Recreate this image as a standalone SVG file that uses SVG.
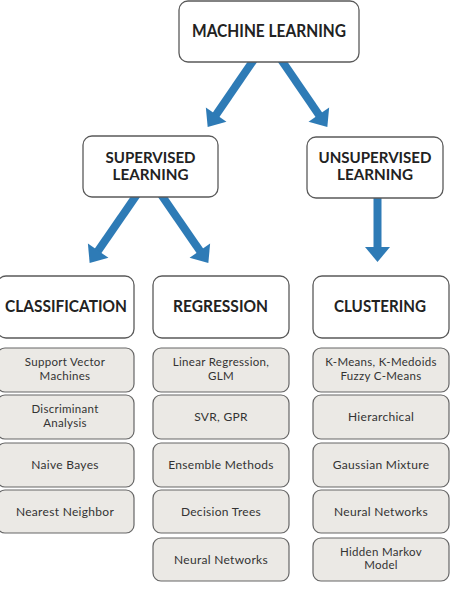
<svg xmlns="http://www.w3.org/2000/svg" width="474" height="593" viewBox="0 0 474 593">
  <style>
    .main { fill: #ffffff; stroke: #5a5a5a; stroke-width: 1.3; }
    .sub { fill: #ebe9e5; stroke: #666666; stroke-width: 1.2; }
    .h { font-family: Lato, "Liberation Sans", sans-serif; font-weight: bold; fill: #222222; text-anchor: middle; }
    .t { font-family: Lato, "Liberation Sans", sans-serif; font-size: 12px; letter-spacing: 0.3px; fill: #333333; text-anchor: middle; }
    .t2 { font-size: 11.5px; }
    .arrow { stroke: #2e7bb6; stroke-width: 8; fill: none; marker-end: url(#head); }
  </style>
  <defs>
    <marker id="head" markerUnits="userSpaceOnUse" markerWidth="16" markerHeight="26" refX="4" refY="12.5" orient="auto" viewBox="0 0 16 26" overflow="visible">
      <path d="M0,0 L15,12.5 L0,25 z" fill="#2e7bb6"/>
    </marker>
  </defs>
  <rect width="474" height="593" fill="#ffffff"/>

  <g id="connectors">
    <line class="arrow" x1="255" y1="58" x2="213.9" y2="117.9"/>
    <line class="arrow" x1="280" y1="58" x2="321.1" y2="117.9"/>
    <line class="arrow" x1="138" y1="193" x2="95.9" y2="254"/>
    <line class="arrow" x1="160" y1="193" x2="202.1" y2="254"/>
    <line class="arrow" x1="377.5" y1="194" x2="377.5" y2="251"/>
  </g>

  <g id="machine-learning">
    <rect class="main" x="179" y="1" width="180" height="61" rx="9"/>
    <text class="h" x="269" y="37" font-size="16.5" textLength="154" lengthAdjust="spacingAndGlyphs">MACHINE LEARNING</text>
  </g>
  <g id="supervised">
    <rect class="main" x="83" y="136" width="135" height="61" rx="9"/>
    <text class="h" x="150.5" y="163" font-size="15.5" textLength="90" lengthAdjust="spacingAndGlyphs">SUPERVISED</text>
    <text class="h" x="150.5" y="180" font-size="15.5" textLength="76" lengthAdjust="spacingAndGlyphs">LEARNING</text>
  </g>
  <g id="unsupervised">
    <rect class="main" x="307" y="137" width="136" height="61" rx="9"/>
    <text class="h" x="375" y="163" font-size="15.5" textLength="113" lengthAdjust="spacingAndGlyphs">UNSUPERVISED</text>
    <text class="h" x="375" y="180" font-size="15.5" textLength="76" lengthAdjust="spacingAndGlyphs">LEARNING</text>
  </g>

  <g id="classification">
    <rect class="main" x="-3" y="276" width="137" height="62" rx="9"/>
    <text class="h" x="66" y="312" font-size="17" textLength="122" lengthAdjust="spacingAndGlyphs">CLASSIFICATION</text>
  </g>
  <g id="regression">
    <rect class="main" x="153" y="276" width="136" height="62" rx="9"/>
    <text class="h" x="220.5" y="312" font-size="17" textLength="95" lengthAdjust="spacingAndGlyphs">REGRESSION</text>
  </g>
  <g id="clustering">
    <rect class="main" x="313" y="276" width="136" height="62" rx="9"/>
    <text class="h" x="380" y="312" font-size="17" textLength="92" lengthAdjust="spacingAndGlyphs">CLUSTERING</text>
  </g>

  <g id="svm">
    <rect class="sub" x="-3" y="348" width="137" height="44" rx="8"/>
    <text class="t t2" x="65" y="366">Support Vector</text>
    <text class="t t2" x="65" y="379.5">Machines</text>
  </g>
  <g id="discriminant">
    <rect class="sub" x="-3" y="395" width="137" height="44" rx="8"/>
    <text class="t t2" x="65" y="413">Discriminant</text>
    <text class="t t2" x="65" y="426.5">Analysis</text>
  </g>
  <g id="naive-bayes">
    <rect class="sub" x="-3" y="443" width="137" height="44" rx="8"/>
    <text class="t" x="65" y="468.5">Naive Bayes</text>
  </g>
  <g id="nearest-neighbor">
    <rect class="sub" x="-3" y="490" width="137" height="43" rx="8"/>
    <text class="t" x="65" y="515.5">Nearest Neighbor</text>
  </g>

  <g id="linear-regression">
    <rect class="sub" x="153" y="348" width="136" height="44" rx="8"/>
    <text class="t t2" x="221" y="366">Linear Regression,</text>
    <text class="t t2" x="221" y="379.5">GLM</text>
  </g>
  <g id="svr-gpr">
    <rect class="sub" x="153" y="395" width="136" height="44" rx="8"/>
    <text class="t" x="221" y="421">SVR, GPR</text>
  </g>
  <g id="ensemble">
    <rect class="sub" x="153" y="443" width="136" height="44" rx="8"/>
    <text class="t" x="221" y="468.5">Ensemble Methods</text>
  </g>
  <g id="decision-trees">
    <rect class="sub" x="153" y="490" width="136" height="43" rx="8"/>
    <text class="t" x="221" y="515.5">Decision Trees</text>
  </g>
  <g id="neural-networks-reg">
    <rect class="sub" x="153" y="538" width="136" height="43" rx="8"/>
    <text class="t" x="221" y="563.5">Neural Networks</text>
  </g>

  <g id="kmeans">
    <rect class="sub" x="313" y="348" width="136" height="44" rx="8"/>
    <text class="t t2" x="381" y="366">K-Means, K-Medoids</text>
    <text class="t t2" x="381" y="379.5">Fuzzy C-Means</text>
  </g>
  <g id="hierarchical">
    <rect class="sub" x="313" y="395" width="136" height="44" rx="8"/>
    <text class="t" x="381" y="421">Hierarchical</text>
  </g>
  <g id="gaussian-mixture">
    <rect class="sub" x="313" y="443" width="136" height="44" rx="8"/>
    <text class="t" x="381" y="468.5">Gaussian Mixture</text>
  </g>
  <g id="neural-networks-clu">
    <rect class="sub" x="313" y="490" width="136" height="43" rx="8"/>
    <text class="t" x="381" y="515.5">Neural Networks</text>
  </g>
  <g id="hmm">
    <rect class="sub" x="313" y="538" width="136" height="43" rx="8"/>
    <text class="t t2" x="381" y="555.5">Hidden Markov</text>
    <text class="t t2" x="381" y="569">Model</text>
  </g>
</svg>
